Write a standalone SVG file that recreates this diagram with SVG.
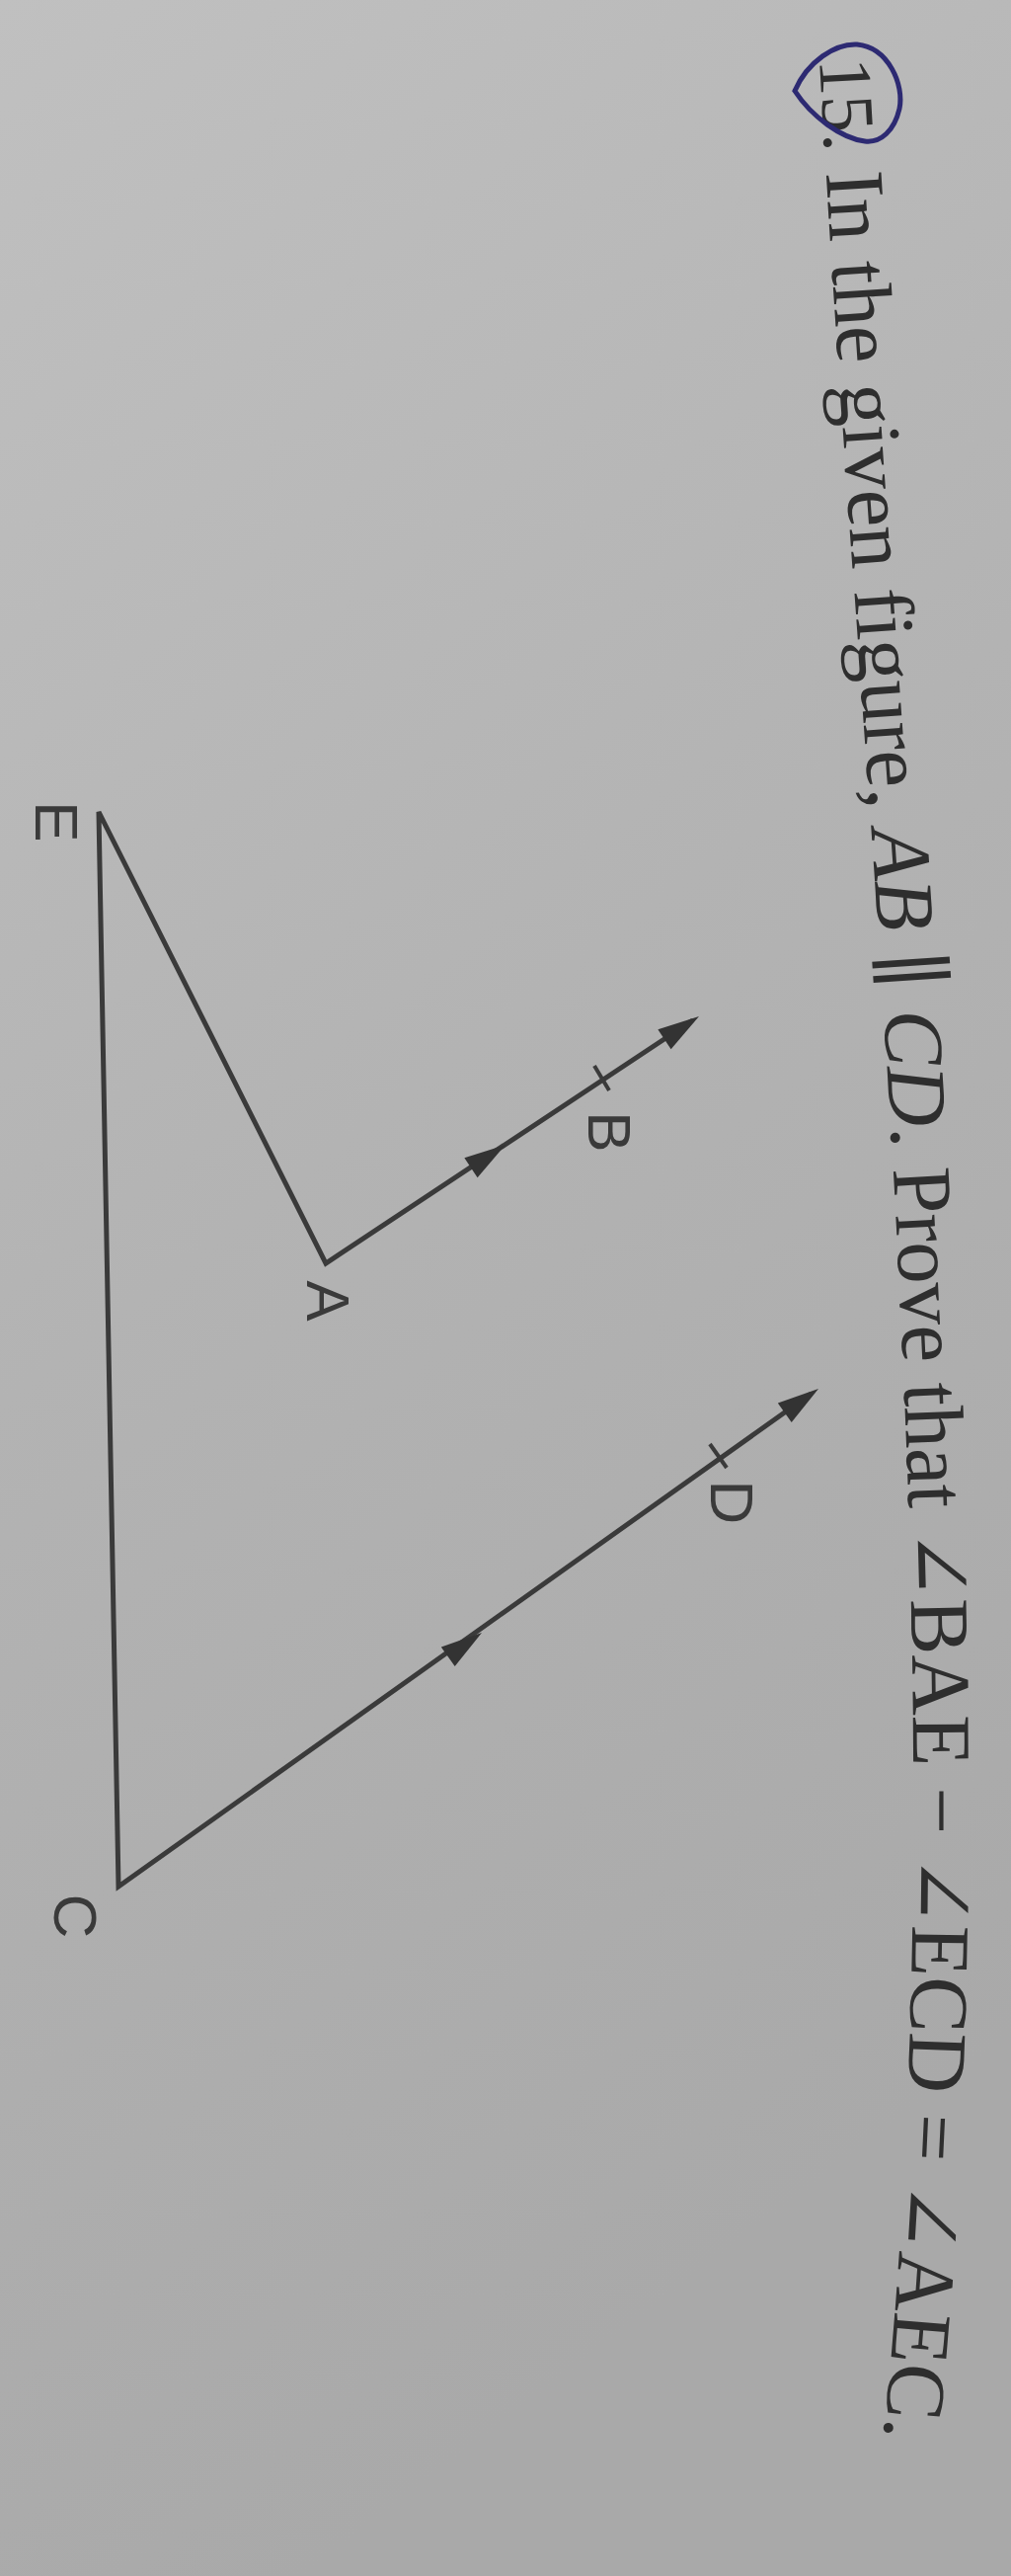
<svg xmlns="http://www.w3.org/2000/svg" width="1024" height="2608" viewBox="0 0 1024 2608">
  <defs>
    <linearGradient id="paper" x1="0" y1="0" x2="0.3" y2="1">
      <stop offset="0" stop-color="#c0c0c0"/>
      <stop offset="0.5" stop-color="#b3b3b3"/>
      <stop offset="1" stop-color="#a9a9a9"/>
    </linearGradient>
    <path id="ah" d="M0,0 L-42,-12 L-42,12 Z"/>
    <path id="qline" d="M 827,0 C 870,867 990,1733 880,2600" fill="none"/>
    <style>
      .ln { stroke: #3a3a3a; stroke-width: 5; fill: none; stroke-linecap: round; stroke-linejoin: miter; }
      .tick { stroke: #3a3a3a; stroke-width: 4; }
      .head { fill: #333333; }
      .lbl { font-family: "Liberation Sans", Arial, sans-serif; font-size: 62px; fill: #3a3a3a; text-anchor: middle; dominant-baseline: central; }
      .q { font-family: "Liberation Serif", "DejaVu Serif", serif; font-size: 85px; fill: #2e2e2e; }
    </style>
  </defs>

  <rect x="0" y="0" width="1024" height="2608" fill="url(#paper)"/>

  <g id="question">
    <text class="q">
      <textPath href="#qline" startOffset="60" textLength="2412" lengthAdjust="spacing"><tspan font-size="76">15.</tspan> In the given figure, <tspan font-style="italic">AB</tspan> ∥ <tspan font-style="italic">CD</tspan>. Prove that ∠BAE − ∠ECD = ∠AEC.</textPath>
    </text>
    <path id="ink-circle" d="M 805,92 C 818,62 846,44 868,45 C 900,48 916,86 911,110 C 906,132 892,145 876,143 C 852,140 822,118 805,92 Z" fill="none" stroke="#2d2a72" stroke-width="5"/>
  </g>

  <g id="connectors">
    <polyline class="ln" points="700,1034 330,1279 100,822 120,1910 820,1412"/>
    <use href="#ah" class="head" transform="translate(708,1029) rotate(-33.5)"/>
    <use href="#ah" class="head" transform="translate(512,1159) rotate(-33.5)"/>
    <use href="#ah" class="head" transform="translate(829,1406) rotate(-35.4)"/>
    <use href="#ah" class="head" transform="translate(488,1653) rotate(-35.4)"/>
    <line class="tick" x1="602" y1="1079" x2="617" y2="1104"/>
    <line class="tick" x1="719" y1="1462" x2="736" y2="1486"/>
  </g>

  <g id="node-E"><text class="lbl" transform="translate(57,832) rotate(90)">E</text></g>
  <g id="node-A"><text class="lbl" transform="translate(332,1317) rotate(90)">A</text></g>
  <g id="node-B"><text class="lbl" transform="translate(617,1146) rotate(90)">B</text></g>
  <g id="node-D"><text class="lbl" transform="translate(741,1521) rotate(90)">D</text></g>
  <g id="node-C"><text class="lbl" transform="translate(76,1940) rotate(90)">C</text></g>
</svg>
